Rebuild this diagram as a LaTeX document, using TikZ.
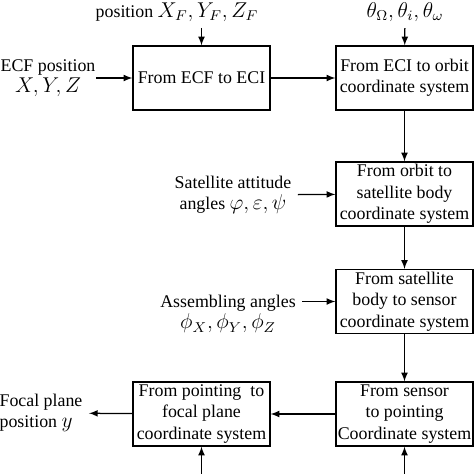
\documentclass[tikz,border=0pt]{standalone}
\usepackage{fontspec}
\setmainfont{Liberation Serif}
\usepackage{amsmath}
\usetikzlibrary{arrows}
\tikzstyle{arrow} = [->,>=latex]
\tikzstyle{block} = [draw, align=center, minimum width=76.7pt, minimum height=35.8pt, inner sep=0.5pt]

\begin{document}
\begin{tikzpicture}[x=0.56pt,y=-0.56pt,line width=0.7pt]
  \useasboundingbox (0,0) rectangle (474,474);

  %the chain of transforms
  \node[block] (eci) at (201.5,78) {From ECF to ECI};
  \node[block] (orbit) at (404.5,78) {From ECI to orbit\\coordinate system};
  \node[block] (body) at (404.5,194) {From orbit to\\satellite body\\coordinate system};
  \node[block] (sens) at (404.5,301.5) {From satellite\\body to sensor\\coordinate system};
  \node[block] (point) at (404.5,414) {From sensor\\to pointing\\Coordinate system};
  \node[block] (focal) at (201.5,414) {From pointing~~to\\focal plane\\coordinate system};

  %inputs and output
  \node[align=center,inner sep=0pt] (ecfin) at (48,78) {ECF position\\{\large $X,Y,Z$}};
  \node (posf) at (177,12) {position {\large $X_F,Y_F,Z_F$}};
  \node (ang) at (405,12) {{\large $\theta_\Omega,\theta_i,\theta_\omega$}};
  \node[align=center] (att) at (233,195) {Satellite attitude\\angles {\large $\varphi,\varepsilon,\psi$}};
  \node[align=center] (asm) at (228,314) {Assembling angles\\{\large $\phi_X,\phi_Y,\phi_Z$}};
  \node[align=left] (fout) at (41,413) {Focal plane\\position {\large $y$}};
  \coordinate (b1) at (201.5,474);
  \coordinate (b2) at (404.5,474);

  \draw[arrow] (ecfin) -- (eci);
  \draw[arrow] (eci) -- (orbit);
  \draw[arrow] (posf.south -| eci.north) -- (eci);
  \draw[arrow] (ang) -- (orbit);
  \draw[arrow] (orbit) -- (body);
  \draw[arrow] (att) -- (body);
  \draw[arrow] (body) -- (sens);
  \draw[arrow] (asm.east |- sens) -- (sens);
  \draw[arrow] (sens) -- (point);
  \draw[arrow] (point) -- (focal);
  \draw[arrow] (focal) -- (fout);
  \draw[arrow] (b1) -- (focal);
  \draw[arrow] (b2) -- (point);
\end{tikzpicture}
\end{document}
